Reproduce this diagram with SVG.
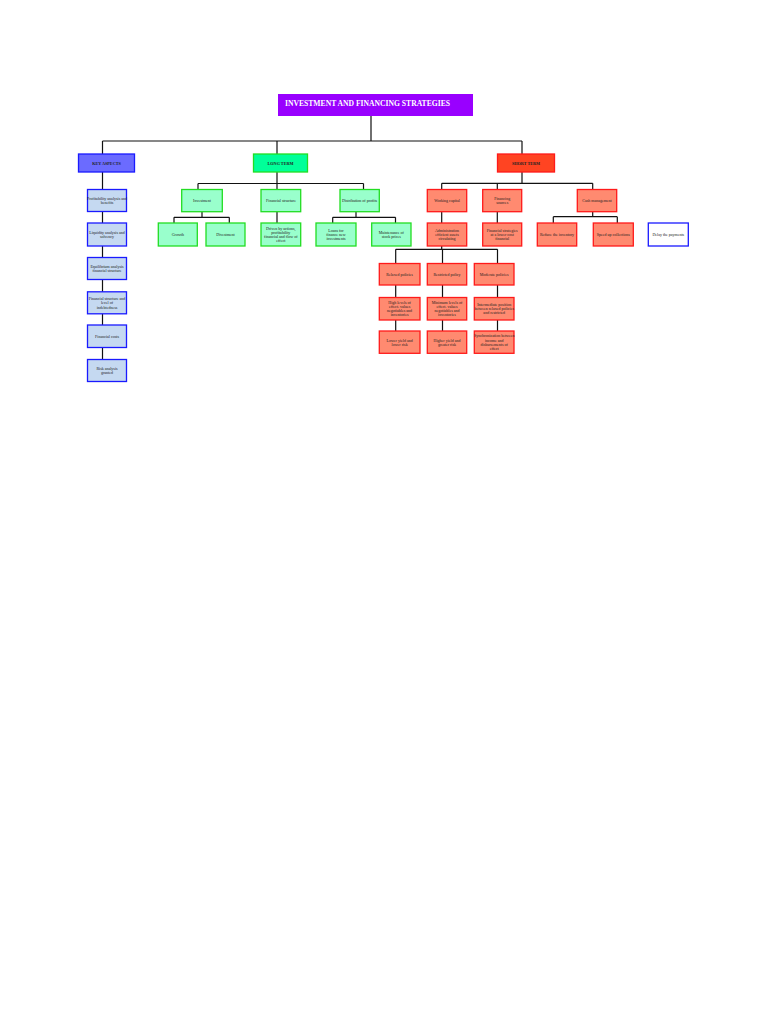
<svg xmlns="http://www.w3.org/2000/svg" width="768" height="1024" viewBox="0 0 768 1024">
<style>
.t{font-family:"Liberation Serif","Times New Roman",serif;font-size:4px;fill:#222;text-anchor:middle}
.b{font-weight:bold;font-size:4.2px}
.blue rect{fill:#c5d9f1;stroke:#1a1aff;stroke-width:1.3}
.grn rect{fill:#99ffcc;stroke:#22dd22;stroke-width:1.3}
.org rect{fill:#ff8a70;stroke:#ff1a1a;stroke-width:1.3}
.wht rect{fill:#ffffff;stroke:#1a1aff;stroke-width:1.3}
#connectors path{fill:none;stroke:#111;stroke-width:1.2}
</style>
<rect width="768" height="1024" fill="#fff"/>
<g id="connectors">
<path d="M371 116V141M102.5 141H522M102.5 141V154M277 141V154M522 141V154"/>
<path d="M102.5 172V359.5"/>
<path d="M277 172V183.5M198 183.5H363.5M198 183.5V189.5M277 183.5V189.5M363.5 183.5V189.5"/>
<path d="M202 212V217.3M174 217.3H229.3M174 217.3V223M229.3 217.3V223"/>
<path d="M277 212V223"/>
<path d="M356 212V217.3M332.7 217.3H395.5M332.7 217.3V223M395.5 217.3V223"/>
<path d="M522 172V183.3M441.7 183.3H592.7M441.7 183.3V189.5M497.3 183.3V189.5M592.7 183.3V189.5"/>
<path d="M441.7 212V223M497.3 212V223"/>
<path d="M592.7 212V216.7M553.3 216.7H617.3M553.3 216.7V223M617.3 216.7V223"/>
<path d="M441.7 246V249.3M395.7 249.3H497.5M395.7 249.3V263.5M442.5 249.3V263.5M497.5 249.3V263.5"/>
<path d="M395.7 285V297.5M395.7 320V331M442.5 285V297.5M442.5 320V331M497.5 285V297.5M497.5 320V331"/>
</g>
<g id="title">
<rect x="278" y="94" width="195" height="22" fill="#9900ff"/>
<text x="285" y="106" font-family="Liberation Serif,serif" font-weight="bold" font-size="7.4" fill="#fff" textLength="165" lengthAdjust="spacingAndGlyphs">INVESTMENT AND FINANCING STRATEGIES</text>
</g>
<g id="key-aspects">
<rect x="78.5" y="154" width="56" height="18" fill="#6b6bff" stroke="#1a1aff" stroke-width="1.3"/>
<text class="t b" x="106.5" y="164.5">KEY ASPECTS</text>
</g>
<g id="long-term">
<rect x="253.5" y="154" width="54" height="18" fill="#00ff99" stroke="#22dd22" stroke-width="1.3"/>
<text class="t b" x="280.5" y="164.5">LONG TERM</text>
</g>
<g id="short-term">
<rect x="497.5" y="154" width="57" height="18" fill="#ff4422" stroke="#ff1a1a" stroke-width="1.3"/>
<text class="t b" x="526" y="164.5">SHORT TERM</text>
</g>
<g id="ka1" class="blue"><rect x="87.5" y="189.5" width="39" height="22"/><text class="t" x="107" y="199.5">Profitability analysis and<tspan x="107" dy="4.5">benefits</tspan></text></g>
<g id="ka2" class="blue"><rect x="87.5" y="223" width="39" height="23"/><text class="t" x="107" y="233.5">Liquidity analysis and<tspan x="107" dy="4.5">solvency</tspan></text></g>
<g id="ka3" class="blue"><rect x="87.5" y="257.5" width="39" height="22"/><text class="t" x="107" y="267.5">Equilibrium analysis<tspan x="107" dy="4.5">financial structure</tspan></text></g>
<g id="ka4" class="blue"><rect x="87.5" y="291.8" width="39" height="22"/><text class="t" x="107" y="299.5">Financial structure and<tspan x="107" dy="4.5">level of</tspan><tspan x="107" dy="4.5">indebtedness</tspan></text></g>
<g id="ka5" class="blue"><rect x="87.5" y="325" width="39" height="22.5"/><text class="t" x="107" y="337.5">Financial costs</text></g>
<g id="ka6" class="blue"><rect x="87.5" y="359.5" width="39" height="22"/><text class="t" x="107" y="369.5">Risk analysis<tspan x="107" dy="4.5">granted</tspan></text></g>
<g id="investment" class="grn"><rect x="181.7" y="189.5" width="40.6" height="22.2"/><text class="t" x="202" y="202">Investment</text></g>
<g id="financial-structure" class="grn"><rect x="261" y="189.5" width="39.7" height="22.2"/><text class="t" x="281" y="202">Financial structure</text></g>
<g id="distribution" class="grn"><rect x="340" y="189.5" width="39.3" height="22.2"/><text class="t" x="359.6" y="202">Distribution of profits</text></g>
<g id="growth" class="grn"><rect x="158.3" y="223" width="39" height="23"/><text class="t" x="177.8" y="235.8">Growth</text></g>
<g id="divestment" class="grn"><rect x="206" y="223" width="39" height="23"/><text class="t" x="225.5" y="235.8">Divestment</text></g>
<g id="driven" class="grn"><rect x="261" y="223" width="39.7" height="23"/><text class="t" x="280.8" y="229.5">Driven by actions,<tspan x="280.8" dy="4.3">profitability</tspan><tspan x="280.8" dy="4.3">financial and flow of</tspan><tspan x="280.8" dy="4.3">effect</tspan></text></g>
<g id="loans" class="grn"><rect x="316" y="223" width="40" height="23"/><text class="t" x="336" y="231.5">Loans for<tspan x="336" dy="4.3">finance new</tspan><tspan x="336" dy="4.3">investments</tspan></text></g>
<g id="maintenance" class="grn"><rect x="371.7" y="223" width="39.3" height="23"/><text class="t" x="391.3" y="233.5">Maintenance of<tspan x="391.3" dy="4.5">stock prices</tspan></text></g>
<g id="working-capital" class="org"><rect x="427.3" y="189.5" width="39.4" height="22.2"/><text class="t" x="447" y="202">Working capital</text></g>
<g id="financing-sources" class="org"><rect x="482.7" y="189.5" width="39" height="22.2"/><text class="t" x="502.2" y="199.5">Financing<tspan x="502.2" dy="4.5">sources</tspan></text></g>
<g id="cash-management" class="org"><rect x="577.3" y="189.5" width="39.4" height="22.2"/><text class="t" x="597" y="202">Cash management</text></g>
<g id="administration" class="org"><rect x="427.3" y="223" width="39.4" height="23"/><text class="t" x="447" y="231.5">Administration<tspan x="447" dy="4.3">efficient assets</tspan><tspan x="447" dy="4.3">circulating</tspan></text></g>
<g id="financial-strategies" class="org"><rect x="482.7" y="223" width="39" height="23"/><text class="t" x="502.2" y="231.5">Financial strategies<tspan x="502.2" dy="4.3">at a lower cost</tspan><tspan x="502.2" dy="4.3">financial</tspan></text></g>
<g id="reduce-inventory" class="org"><rect x="537.3" y="223" width="39.4" height="23"/><text class="t" x="557" y="235.8">Reduce the inventory</text></g>
<g id="speed-collections" class="org"><rect x="593.3" y="223" width="40" height="23"/><text class="t" x="613.3" y="235.8">Speed up collections</text></g>
<g id="delay-payments" class="wht"><rect x="648.3" y="223" width="40" height="23"/><text class="t" x="668.3" y="235.8">Delay the payments</text></g>
<g id="relaxed" class="org"><rect x="379.3" y="263.5" width="40.7" height="21.5"/><text class="t" x="399.6" y="275.5">Relaxed policies</text></g>
<g id="restricted" class="org"><rect x="427.3" y="263.5" width="39.4" height="21.5"/><text class="t" x="447" y="275.5">Restricted policy</text></g>
<g id="moderate" class="org"><rect x="474.3" y="263.5" width="39.7" height="21.5"/><text class="t" x="494.2" y="275.5">Moderate policies</text></g>
<g id="high-levels" class="org"><rect x="379.3" y="297.5" width="40.7" height="22.5"/><text class="t" x="399.6" y="303.5">High levels of<tspan x="399.6" dy="4.2">effect. values</tspan><tspan x="399.6" dy="4.2">negotiables and</tspan><tspan x="399.6" dy="4.2">inventories</tspan></text></g>
<g id="minimum-levels" class="org"><rect x="427.3" y="297.5" width="39.4" height="22.5"/><text class="t" x="447" y="303.5">Minimum levels of<tspan x="447" dy="4.2">effect. values</tspan><tspan x="447" dy="4.2">negotiables and</tspan><tspan x="447" dy="4.2">inventories</tspan></text></g>
<g id="intermediate" class="org"><rect x="474.3" y="297.5" width="39.7" height="22.5"/><text class="t" x="494.2" y="305.5">Intermediate position<tspan x="494.2" dy="4.3">between relaxed policies</tspan><tspan x="494.2" dy="4.3">and restricted</tspan></text></g>
<g id="lower-yield" class="org"><rect x="379.3" y="331" width="40.7" height="22.3"/><text class="t" x="399.6" y="341.5">Lower yield and<tspan x="399.6" dy="4.5">lower risk</tspan></text></g>
<g id="higher-yield" class="org"><rect x="427.3" y="331" width="39.4" height="22.3"/><text class="t" x="447" y="341.5">Higher yield and<tspan x="447" dy="4.5">greater risk</tspan></text></g>
<g id="synchronization" class="org"><rect x="474.3" y="331" width="39.7" height="22.3"/><text class="t" x="494.2" y="337.3" font-size="3">Synchronization between</text><text class="t" x="494.2" y="341.5">income and<tspan x="494.2" dy="4.2">disbursements of</tspan><tspan x="494.2" dy="4.2">effect</tspan></text></g>
</svg>
